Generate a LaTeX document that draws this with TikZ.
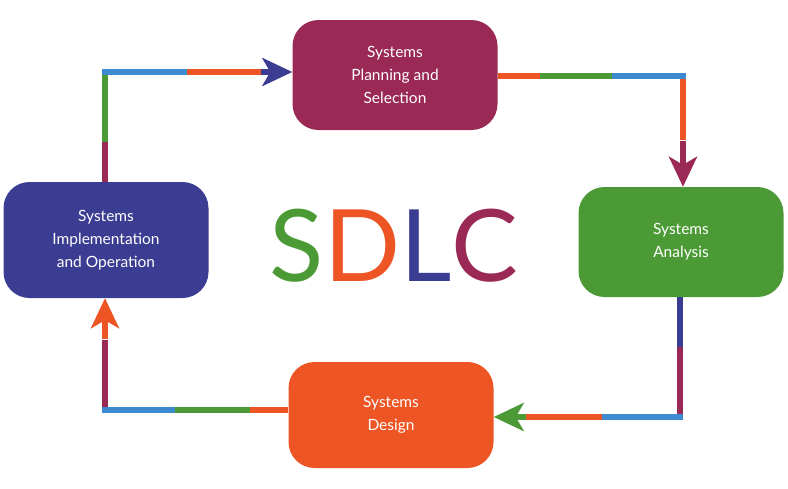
\documentclass[tikz,border=0pt]{standalone}
\usepackage{fontspec}
\setmainfont{Lato}
\usetikzlibrary{arrows.meta}
\definecolor{cmaroon}{HTML}{9A2A55}
\definecolor{cgreen}{HTML}{4C9A35}
\definecolor{corange}{HTML}{EE5525}
\definecolor{cblue}{HTML}{3A3D92}
\definecolor{clblue}{HTML}{3D8AD0}
\begin{document}
\begin{tikzpicture}[x=1pt,y=-1pt,
  box/.style={rounded corners=26pt,minimum width=205pt,minimum height=110pt,text=white,align=center,font=\fontsize{15.5}{23}\selectfont,inner sep=0pt},
  seg/.style={line width=6.5pt},
  arr/.style={line width=6.5pt,-{Stealth[length=30pt,width=28pt,inset=8pt]}}]
\useasboundingbox (0,0) rectangle (788,488);
\node[box,fill=cmaroon] (plan) at (395,75) {Systems\\Planning and\\Selection};
\node[box,fill=cgreen] (anal) at (681,242) {Systems\\Analysis};
\node[box,fill=corange,minimum height=106pt] (des) at (391,415) {Systems\\Design};
\node[box,fill=cblue,minimum height=116pt] (impl) at (106,240) {Systems\\Implementation\\and Operation};
\node[font=\fontsize{100}{100}\selectfont] (sdlc) at (394,246) {\textcolor{cgreen}{S}\textcolor{corange}{D}\textcolor{cblue}{L}\textcolor{cmaroon}{C}};
% top-left
\coordinate (a1) at (105,142); \coordinate (a2) at (105,72); \coordinate (a3) at (187,72); \coordinate (a4) at (262,72);
\draw[seg,cmaroon] (impl.north -| a1) -- (a1);
\draw[seg,cgreen] (a1) -- ([yshift=-3.25]a2);
\draw[seg,clblue] ([xshift=-3.25]a2) -- (a3);
\draw[seg,corange] (a3) -- (a4);
\draw[arr,cblue] ([xshift=-1]a4) -- (plan.west |- a4);
% top-right
\coordinate (b1) at (540,76); \coordinate (b2) at (612,76); \coordinate (b3) at (683,76); \coordinate (b4) at (683,140);
\draw[seg,corange] (plan.east |- b1) -- (b1);
\draw[seg,cgreen] (b1) -- (b2);
\draw[seg,clblue] (b2) -- ([xshift=3.25]b3);
\draw[seg,corange] ([yshift=-3.25]b3) -- (b4);
\draw[arr,cmaroon] ([yshift=-1]b4) -- (anal.north -| b4);
% bottom-right
\coordinate (c1) at (680,347); \coordinate (c2) at (680,417); \coordinate (c3) at (602,417); \coordinate (c4) at (525,417);
\draw[seg,cblue] (anal.south -| c1) -- (c1);
\draw[seg,cmaroon] (c1) -- ([yshift=3.25]c2);
\draw[seg,clblue] ([xshift=3.25]c2) -- (c3);
\draw[seg,corange] (c3) -- (c4);
\draw[arr,cgreen] ([xshift=1]c4) -- (des.east |- c4);
% bottom-left
\coordinate (d1) at (250,410); \coordinate (d2) at (175,410); \coordinate (d3) at (105,410); \coordinate (d4) at (105,340);
\draw[seg,corange] (des.west |- d1) -- (d1);
\draw[seg,cgreen] (d1) -- (d2);
\draw[seg,clblue] (d2) -- ([xshift=-3.25]d3);
\draw[seg,cmaroon] ([yshift=3.25]d3) -- (d4);
\draw[arr,corange] ([yshift=1]d4) -- (impl.south -| d4);
\end{tikzpicture}
\end{document}
